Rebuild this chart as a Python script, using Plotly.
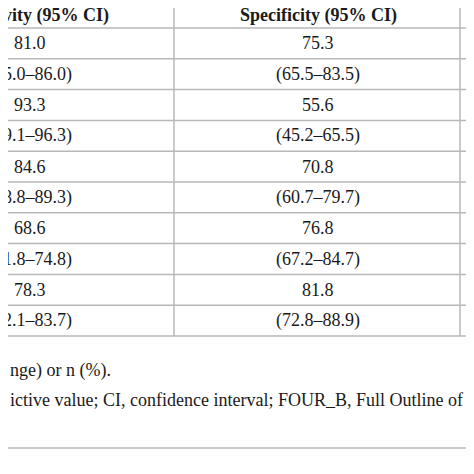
import plotly.graph_objects as go

headers = ["Sensitivity (95% CI)", "Specificity (95% CI)"]
sensitivity = ["81.0", "(65.0–86.0)", "93.3", "(89.1–96.3)", "84.6", "(78.8–89.3)",
               "68.6", "(61.8–74.8)", "78.3", "(72.1–83.7)"]
specificity = ["75.3", "(65.5–83.5)", "55.6", "(45.2–65.5)", "70.8", "(60.7–79.7)",
               "76.8", "(67.2–84.7)", "81.8", "(72.8–88.9)"]
footnotes = ["nge) or n (%).",
             "ictive value; CI, confidence interval; FOUR_B, Full Outline of"]

font = dict(family="Liberation Serif", size=18, color="#1a1a1a")
line = dict(color="#b8b8b8", width=1.5)
step = 30.8
top = 20
col_x = [22, 310]

fig = go.Figure()
ann = []
shapes = []
for j, h in enumerate(headers):
    ann.append(dict(x=col_x[j], y=7, text="<b>" + h + "</b>", showarrow=False,
                    xanchor="center", yanchor="middle", font=font))
for i, (s, p) in enumerate(zip(sensitivity, specificity)):
    yc = top + step * (i + 0.5)
    for j, t in enumerate((s, p)):
        ann.append(dict(x=col_x[j], y=yc, text=t, showarrow=False,
                        xanchor="center", yanchor="middle", font=font))
n = len(sensitivity)
for i in range(n + 1):
    y = top + step * i
    shapes.append(dict(type="line", x0=0, x1=474, y0=y, y1=y, line=line))
bottom_table = top + step * n
for x in (166, 452):
    shapes.append(dict(type="line", x0=x, x1=x, y0=-5, y1=bottom_table, line=line))
shapes.append(dict(type="line", x0=0, x1=474, y0=440, y1=440, line=line))
for k, f in enumerate(footnotes):
    ann.append(dict(x=0, y=362 + 30 * k, text=f, showarrow=False,
                    xanchor="left", yanchor="middle", font=font))

fig.update_layout(
    width=474, height=474, margin=dict(l=0, r=0, t=0, b=0),
    paper_bgcolor="white", plot_bgcolor="white",
    xaxis=dict(range=[0, 474], visible=False, fixedrange=True),
    yaxis=dict(range=[474, 0], visible=False, fixedrange=True),
    annotations=ann, shapes=shapes, showlegend=False,
)
fig.write_html("out.html")
